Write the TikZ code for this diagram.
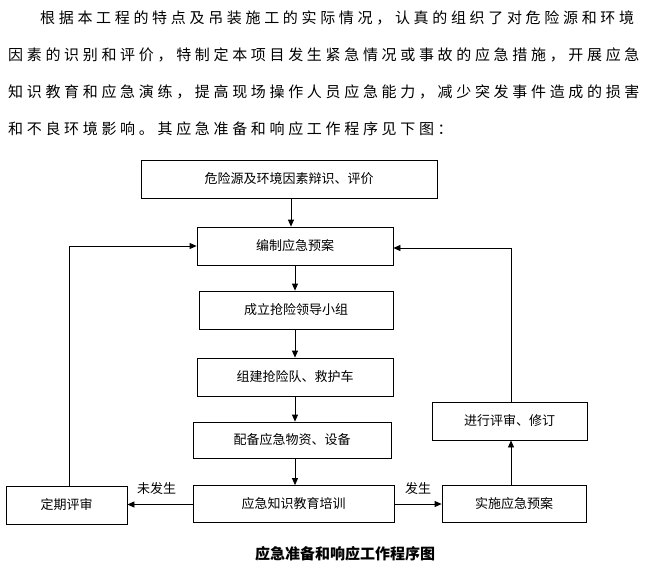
\documentclass[tikz,border=0pt]{standalone}
\usepackage{fontspec}
\setmainfont{Noto Sans CJK SC}
\newfontfamily\para[LetterSpace=24.5]{Noto Sans CJK SC}
\usetikzlibrary{arrows.meta}
\begin{document}
\begin{tikzpicture}[x=1pt,y=-1pt,
  bx/.style={draw,line width=0.8pt,minimum height=38pt,font=\fontsize{13}{15}\selectfont,inner sep=0pt},
  ar/.style={-{Triangle[length=7pt,width=6pt]},line width=0.8pt},
  pl/.style={anchor=west,inner sep=0pt,font=\para\fontsize{15}{17}\selectfont}]
\useasboundingbox[fill=white] (0,0) rectangle (668,570);
\node[pl] (p1) at (40,18) {根据本工程的特点及吊装施工的实际情况，认真的组织了对危险源和环境};
\node[pl] (p2) at (8,55) {因素的识别和评价，特制定本项目发生紧急情况或事故的应急措施，开展应急};
\node[pl] (p3) at (8,92) {知识教育和应急演练，提高现场操作人员应急能力，减少突发事件造成的损害};
\node[pl] (p4) at (8,129) {和不良环境影响。其应急准备和响应工作程序见下图：};
\node[bx,minimum width=296pt] (b1) at (289,179) {危险源及环境因素辩识、评价};
\node[bx,minimum width=196pt] (b2) at (295,246) {编制应急预案};
\node[bx,minimum width=194pt] (b3) at (296,310) {成立抢险领导小组};
\node[bx,minimum width=196pt] (b4) at (295,377) {组建抢险队、救护车};
\node[bx,minimum width=198pt,minimum height=36pt] (b5) at (292,440) {配备应急物资、设备};
\node[bx,minimum width=201pt,minimum height=37pt] (b6) at (293.5,504) {应急知识教育培训};
\node[bx,minimum width=121pt] (b7) at (66.5,505) {定期评审};
\node[bx,minimum width=144pt,minimum height=37pt] (b8) at (514,504) {实施应急预案};
\node[bx,minimum width=155pt] (b9) at (509.5,421) {进行评审、修订};
\draw[ar] (b1.south -| 291,0) -- (b2.north -| 291,0);
\draw[ar] (b2.south -| 295,0) -- (b3.north -| 295,0);
\draw[ar] (b3.south -| 295,0) -- (b4.north -| 295,0);
\draw[ar] (b4.south -| 295,0) -- (b5.north -| 295,0);
\draw[ar] (b5.south -| 295,0) -- (b6.north -| 295,0);
\draw[ar] (b6.west |- 0,504.5) -- (b7.east |- 0,504.5) node[pos=0.55,above=6pt,font=\fontsize{13}{15}\selectfont] {未发生};
\draw[ar] (b6.east) -- (b8.west) node[pos=0.5,above=6pt,font=\fontsize{13}{15}\selectfont] {发生};
\draw[ar] (b8.north -| 511,0) -- (b9.south -| 511,0);
\draw[ar] (b9.north -| 511,0) -- (511,248) -- (b2.east |- 0,248);
\draw[ar] (b7.north -| 69,0) -- (69,246) -- (b2.west);
\node[font=\bfseries\fontsize{15}{17}\selectfont] (cap) at (345,554) {应急准备和响应工作程序图};
\end{tikzpicture}
\end{document}
